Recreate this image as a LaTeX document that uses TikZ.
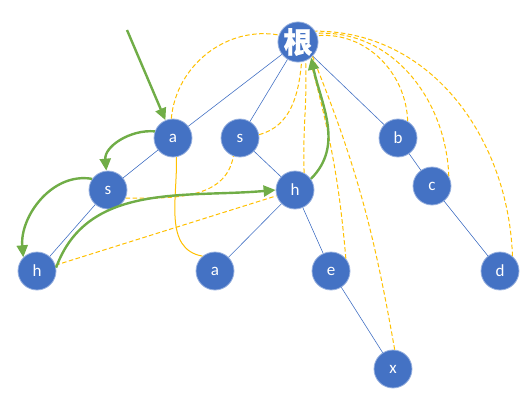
\documentclass[tikz,border=0pt]{standalone}
\usepackage{fontspec}
\setmainfont{Carlito}
\newfontfamily\cjk[FakeBold=0.4]{Noto Sans CJK SC}
\usetikzlibrary{positioning,arrows.meta}
\definecolor{trieblue}{HTML}{4472C4}
\definecolor{failgold}{HTML}{FFC000}
\definecolor{walkgreen}{HTML}{70AD47}
\tikzset{
    trie/.style={circle, fill=trieblue, draw=trieblue!55!white, line width=0.8pt,
        minimum size=38pt, inner sep=0pt, text=white, font=\fontsize{17}{17}\selectfont},
    branch/.style={trieblue, line width=0.6pt},
    fail/.style={failgold, line width=1pt, dash pattern=on 4.5pt off 2.5pt},
    tie/.style={failgold, line width=1pt},
    walk/.style={walkgreen, line width=2.4pt, -{Triangle[length=12pt,width=11pt]}}
}
\begin{document}
\begin{tikzpicture}[x=1pt, y=1pt, on grid]
    \useasboundingbox (0,0) rectangle (528,400);
    \node [trie, font=\cjk\bfseries\fontsize{29}{29}\selectfont] (root) at (298,358) {根};
    \node [trie, below left = 96pt and 125pt of root] (a1) {a};
    \node [trie, below left = 96pt and 58pt of root] (s1) {s};
    \node [trie, below right = 96pt and 100pt of root] (b1) {b};
    \node [trie, below left = 52pt and 65pt of a1] (s2) {s};
    \node [trie, below right = 52pt and 55pt of s1] (h2) {h};
    \node [trie, below right = 48pt and 34pt of b1] (c2) {c};
    \node [trie, below left = 81pt and 71pt of s2] (h3) {h};
    \node [trie, below left = 81pt and 80pt of h2] (a3) {a};
    \node [trie, below right = 81pt and 36pt of h2] (e3) {e};
    \node [trie, below right = 85pt and 68pt of c2] (d3) {d};
    \node [trie, below right = 98pt and 62pt of e3] (x4) {x};
    \coordinate (start) at (127,370);

    \draw [branch] (root) -- (a1);
    \draw [branch] (root) -- (s1);
    \draw [branch] (root) -- (b1);
    \draw [branch] (a1) -- (s2);
    \draw [branch] (s1) -- (h2);
    \draw [branch] (b1) -- (c2);
    \draw [branch] (s2) -- (h3);
    \draw [branch] (h2) -- (a3);
    \draw [branch] (h2) -- (e3);
    \draw [branch] (c2) -- (d3);
    \draw [branch] (e3) -- (x4);

    \draw [fail] (a1.95) to [out=85, in=170] (root.160);
    \draw [fail] (s1.10) to [out=15, in=-95] (root.-80);
    \draw [fail] (h2.62) to [out=92, in=-88] (root.-68);
    \draw [fail] (e3.40) to [out=95, in=-75] (root.-55);
    \draw [fail] (x4.85) to [out=100, in=-68] (root.-45);
    \draw [fail] (b1.60) to [out=92, in=5] (root.18);
    \draw [fail] (c2.30) to [out=92, in=3] (root.25);
    \draw [fail] (d3.50) to [out=92, in=0] (root.32);
    \draw [fail] (s2.-25) to [out=0, in=-100] (s1.-110);
    \draw [fail] (h3) -- (h2);
    \draw [tie] (a1.-80) to [out=-88, in=170] (a3.130);

    \draw [walk] (start) -- (a1);
    \draw [walk] (a1.160) to [out=175, in=95] (s2.95);
    \draw [walk] (s2.145) to [out=170, in=95] (h3.135);
    \draw [walk] (h3.10) to [out=70, in=185] (h2.180);
    \draw [walk] (h2.35) to [out=45, in=-78] (root.-50);
\end{tikzpicture}
\end{document}
